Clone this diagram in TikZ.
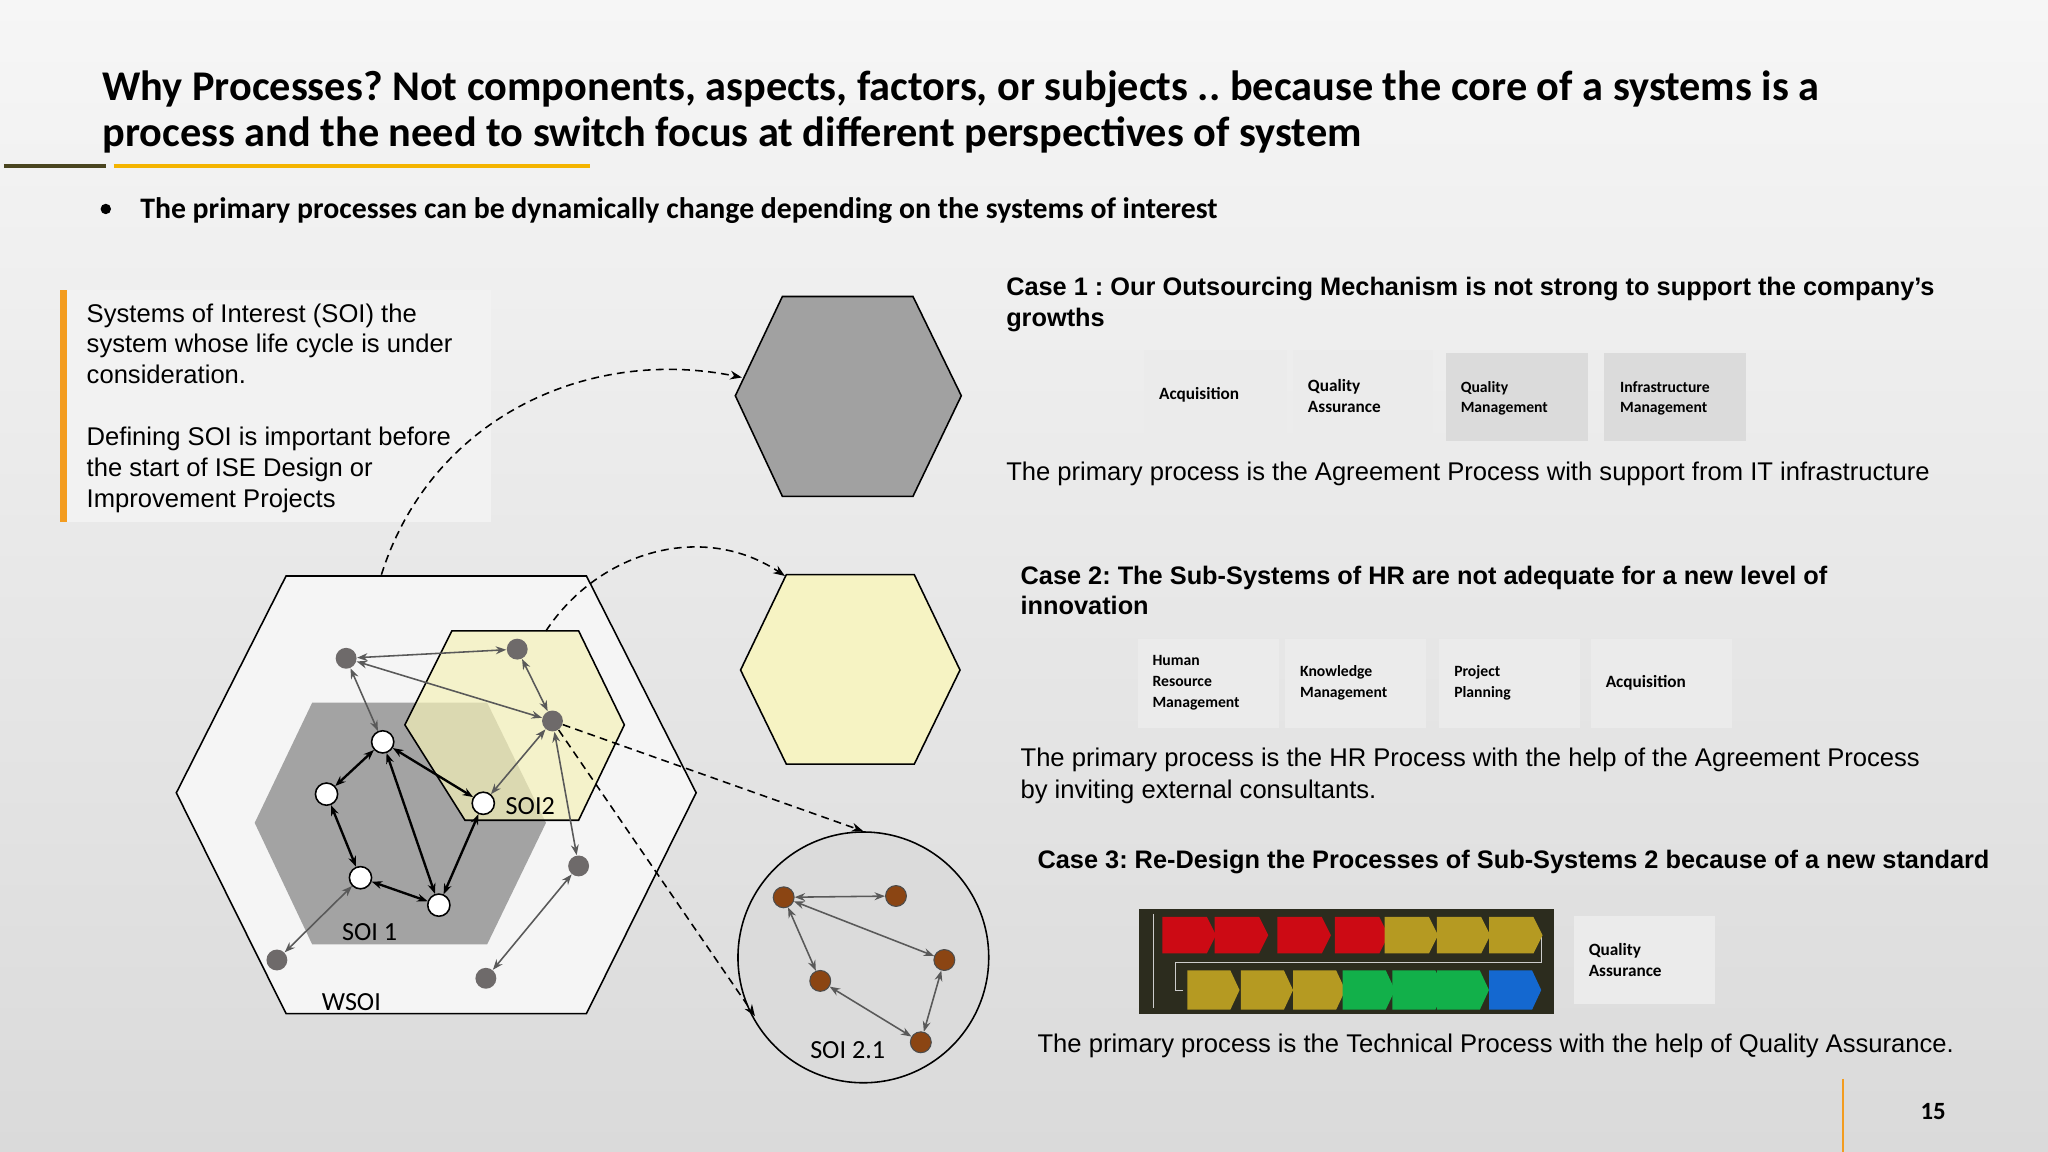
\documentclass[tikz,border=0pt]{standalone}
\usepackage{fontspec}
\setmainfont{Liberation Sans}
\newfontfamily\calf{Carlito}
\usetikzlibrary{arrows.meta}
\frenchspacing
\definecolor{bgtop}{HTML}{F6F6F6}
\definecolor{bgbot}{HTML}{DADADA}
\definecolor{olive}{HTML}{4A4520}
\definecolor{gold}{HTML}{F4B400}
\definecolor{orng}{HTML}{F39C1F}
\definecolor{gnode}{HTML}{6E6A6A}
\definecolor{brn}{HTML}{8B4513}
\definecolor{ylw}{HTML}{F4F1B8}
\definecolor{chred}{HTML}{CC0A14}
\definecolor{chgold}{HTML}{B59A22}
\definecolor{chgrn}{HTML}{12B04A}
\definecolor{chblu}{HTML}{1468D0}
\definecolor{strip}{HTML}{2C2C1E}
\tikzset{
 gn/.style={circle,fill=gnode,minimum size=8pt,inner sep=0pt},
 wn/.style={circle,fill=white,draw=black,line width=0.6pt,minimum size=8.5pt,inner sep=0pt},
 bn/.style={circle,fill=brn,draw=black!70,line width=0.4pt,minimum size=8pt,inner sep=0pt},
 garr/.style={{Stealth[length=4pt]}-{Stealth[length=4pt]},draw=black!65,line width=0.6pt},
 barr/.style={{Stealth[length=4pt]}-{Stealth[length=4pt]},draw=black,line width=0.9pt},
 darr/.style={-{Stealth[length=4.5pt]},dashed,line width=0.6pt,dash pattern=on 3pt off 2pt},
 plab/.style={anchor=west,inner sep=0pt,font=\calf\bfseries\fontsize{6.6}{8}\selectfont,align=left},
 slab/.style={plab,font=\calf\bfseries\fontsize{6}{8}\selectfont},
 body/.style={anchor=west,font=\fontsize{9.8}{12}\selectfont,align=left,inner sep=0pt},
 head/.style={anchor=west,font=\bfseries\fontsize{9.7}{11.8}\selectfont,align=left,inner sep=0pt},
 soil/.style={font=\calf\fontsize{10}{12}\selectfont,inner sep=0pt}
}
\begin{document}
\begin{tikzpicture}[x=0.5pt,y=-0.5pt]
\useasboundingbox (0,0) rectangle (1568,882);
\shade[top color=bgtop,bottom color=bgbot] (0,0) rectangle (1568,882);
% title
\node[anchor=west,inner sep=0pt,font=\calf\bfseries\fontsize{16.2}{18}\selectfont] (t1) at (78,68) {Why Processes? Not components, aspects, factors, or subjects .. because the core of a systems is a};
\node[anchor=west,inner sep=0pt,font=\calf\bfseries\fontsize{16.2}{18}\selectfont] (t2) at (78,103) {process and the need to switch focus at different perspectives of system};
\draw[olive,line width=1.5pt] (3,127) -- (81,127);
\draw[gold,line width=1.5pt] (87,127) -- (452,127);
\node[anchor=west,inner sep=0pt,font=\calf\bfseries\fontsize{11.4}{13}\selectfont] (bl) at (107,161) {The primary processes can be dynamically change depending on the systems of interest};
\fill (81,160) circle (2pt);
% left box
\fill[black!5] (46,222) rectangle (376,400);
\fill[orng] (46,222) rectangle (51,400);
\node[anchor=north west,inner sep=0pt,font=\fontsize{9.8}{11.8}\selectfont,align=left] (lb) at (66,232) {Systems of Interest (SOI) the\\system whose life cycle is under\\consideration.\\[11.8pt]Defining SOI is important before\\the start of ISE Design or\\Improvement Projects};
% WSOI
\draw[fill=black!4,line width=0.6pt] (219,441) -- (449,441) -- (533,607) -- (449,776) -- (219,776) -- (135,607) -- cycle;
\fill[black!36] (239,538) -- (373,538) -- (418,630) -- (373,723) -- (239,723) -- (195,630) -- cycle;
\draw[fill=ylw,fill opacity=0.7,line width=0.6pt] (346,483) -- (443,483) -- (478,555) -- (443,628) -- (356,628) -- (310,555) -- cycle;
\node[soil] (l2) at (406,617) {SOI2};
\node[soil] (l1) at (283,714) {SOI 1};
\node[soil] (lw) at (269,767) {WSOI};
% nodes
\node[gn] (A) at (265,504) {};
\node[gn] (B) at (396,497) {};
\node[gn] (C) at (423,552) {};
\node[gn] (D) at (443,663) {};
\node[gn] (E) at (212,735) {};
\node[gn] (F) at (372,749) {};
\node[wn] (W1) at (293,568) {};
\node[wn] (W2) at (250,608) {};
\node[wn] (W3) at (370,615) {};
\node[wn] (W4) at (276,672) {};
\node[wn] (W5) at (336,693) {};
\foreach \a/\b in {A/B,A/C,B/C,A/W1,C/W3,C/D,E/W4,F/D} \draw[garr] (\a) -- (\b);
\foreach \a/\b in {W1/W2,W1/W3,W1/W5,W2/W4,W4/W5,W5/W3} \draw[barr] (\a) -- (\b);
% right hexagons
\draw[fill=black!37,line width=0.6pt] (599,227) -- (699,227) -- (736,303) -- (699,380) -- (599,380) -- (563,303) -- cycle;
\coordinate (h1) at (568,289);
\draw[fill=ylw!85!white,line width=0.6pt] (602,440) -- (700,440) -- (735,513) -- (700,585) -- (602,585) -- (567,513) -- cycle;
\coordinate (h2) at (601,441);
% circle
\node[circle,draw,line width=0.6pt,fill=black!14,minimum size=96pt,inner sep=0pt] (circ) at (661,733) {};
\node[soil] (l3) at (649,804) {SOI 2.1};
\node[bn] (P1) at (600,687) {};
\node[bn] (P2) at (686,686) {};
\node[bn] (P3) at (723,735) {};
\node[bn] (P4) at (628,751) {};
\node[bn] (P5) at (705,798) {};
\foreach \a/\b in {P1/P2,P1/P3,P1/P4,P4/P5,P5/P3} \draw[garr] (\a) -- (\b);
% dashed
\coordinate (s1) at (292,440);
\coordinate (s2) at (418,483);
\draw[darr] (s1) .. controls (330,320) and (450,265) .. (h1);
\draw[darr] (s2) .. controls (460,420) and (540,400) .. (h2);
\draw[darr] (C) -- (circ.north);
\draw[darr] (C) -- (578,778);
% case 1
\node[head] (c1) at (770,233) {Case 1 : Our Outsourcing Mechanism is not strong to support the company’s\\growths};
\fill[black!8] (876,268) rectangle (985,338);
\fill[black!8] (990,268) rectangle (1097,338);
\fill[black!14] (1107,270) rectangle (1216,338);
\fill[black!14] (1228,270) rectangle (1337,338);
\node[plab] (q1) at (887,302) {Acquisition};
\node[plab] (q2) at (1001,303) {Quality\\Assurance};
\node[slab] (q3) at (1118,305) {Quality\\Management};
\node[slab] (q4) at (1240,305) {Infrastructure\\Management};
\node[body] (b1) at (770,363) {The primary process is the Agreement Process with support from IT infrastructure};
% case 2
\node[head] (c2) at (781,452) {Case 2: The Sub-Systems of HR are not adequate for a new level of\\innovation};
\foreach \x in {871,984,1102,1218} \fill[black!8] (\x,489) rectangle ++(108,68);
\node[slab] (r1) at (882,523) {Human\\Resource\\Management};
\node[slab] (r2) at (995,523) {Knowledge\\Management};
\node[slab] (r3) at (1113,523) {Project\\Planning};
\node[plab] (r4) at (1229,523) {Acquisition};
\node[body] (b2) at (781,594) {The primary process is the HR Process with the help of the Agreement Process\\by inviting external consultants.};
% case 3
\node[head] (c3) at (794,660) {Case 3: Re-Design the Processes of Sub-Systems 2 because of a new standard};
\fill[strip] (872,696) rectangle (1190,776);
\draw[white!80!black,line width=0.4pt] (883,700) -- (883,772);
\draw[white!80!black,line width=0.4pt] (1176,717) -- (1180,717) -- (1180,737) -- (900,737) -- (900,758) -- (906,758);
\foreach \x/\c in {890/chred,930/chred,978/chred,1022/chred,1060/chgold,1100/chgold,1140/chgold}
  \fill[\c] (\x,702) -- ++(34,0) -- ++(7,14) -- ++(-7,14) -- ++(-34,0) -- cycle;
\foreach \x/\c in {909/chgold,950/chgold,990/chgold,1028/chgrn,1066/chgrn,1100/chgrn,1140/chblu}
  \fill[\c] (\x,743) -- ++(33,0) -- ++(7,15) -- ++(-7,15) -- ++(-33,0) -- cycle;
\fill[black!8] (1205,701) rectangle (1313,769);
\node[plab] (qa) at (1216,735) {Quality\\Assurance};
\node[body] (b3) at (794,801) {The primary process is the Technical Process with the help of Quality Assurance.};
% page
\draw[orng,line width=0.8pt] (1411,826) -- (1411,882);
\node[font=\calf\bfseries\fontsize{9.5}{11}\selectfont] (pg) at (1480,851) {15};
\end{tikzpicture}
\end{document}
